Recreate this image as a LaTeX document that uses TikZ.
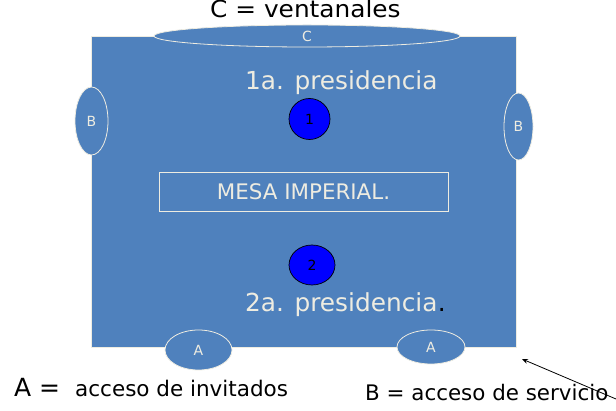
\documentclass[tikz,border=0pt]{standalone}
\usepackage{fontspec}
\setmainfont{DejaVu Sans}
\definecolor{pane}{HTML}{4F81BD}
\definecolor{paper}{HTML}{EEECE1}
\tikzset{
  door/.style={ellipse,draw=paper,fill=pane,line width=0.8pt,inner sep=0pt,text=paper,font=\fontsize{14}{16}\selectfont},
  seat/.style={ellipse,draw=black,fill=blue,line width=0.7pt,inner sep=0pt,text=black,font=\fontsize{14}{16}\selectfont},
  onblue/.style={anchor=base west,inner sep=0pt,text=paper,font=\fontsize{24.8}{28}\selectfont},
  onwhite/.style={anchor=base west,inner sep=0pt,text=black},
}
\usetikzlibrary{shapes.geometric,arrows.meta}
\begin{document}
\begin{tikzpicture}[x=1pt,y=-1pt]
\useasboundingbox (0,0) rectangle (616,411);
\node[draw=paper,fill=pane,line width=0.5pt,minimum width=425.5pt,minimum height=311pt,inner sep=0pt] (room) at (303.6,192) {};
\node[door,minimum width=306pt,minimum height=22pt] (dc) at (307,36) {C};
\node[door,minimum width=33pt,minimum height=68pt] (bl) at (91.5,121) {B};
\node[door,minimum width=29pt,minimum height=67pt] (br) at (518.5,126.5) {B};
\node[door,minimum width=67pt,minimum height=40pt] (al) at (198.5,350) {A};
\node[door,minimum width=68pt,minimum height=34pt] (ar) at (431,347) {A};
\node[seat,minimum width=41pt,minimum height=41pt] (s1) at (309.5,119) {1};
\node[seat,minimum width=46pt,minimum height=40pt] (s2) at (312,265) {2};
\node[draw=paper,line width=0.8pt,minimum width=289pt,minimum height=39pt,inner sep=0pt,text=paper,font=\fontsize{21.4}{24}\selectfont] (mesa) at (303.5,191.5) {MESA IMPERIAL.};
\node[onblue] (t1) at (245,90) {1a. presidencia};
\node[onblue] (t2) at (245,311.5) {2a. presidencia};
\node[onwhite,font=\fontsize{24.8}{28}\selectfont] (dot) at (t2.base east) {.};
\node[onwhite,font=\fontsize{23.4}{28}\selectfont,xscale=1.06,transform shape] (tc) at (210,18) {C = ventanales};
\node[onwhite,font=\fontsize{25}{28}\selectfont] (ta) at (14,397) {A =};
\node[onwhite,font=\fontsize{21.5}{24}\selectfont] (tv) at (75,397) {acceso de invitados};
\node[onwhite,font=\fontsize{21.4}{24}\selectfont] (tb) at (365,401) {B = acceso de servicio};
\coordinate (af) at (616,399);
\coordinate (at) at (522,359);
\draw[-{Stealth[length=6pt,width=5pt]},line width=0.8pt] (af) -- (at);
\end{tikzpicture}
\end{document}
